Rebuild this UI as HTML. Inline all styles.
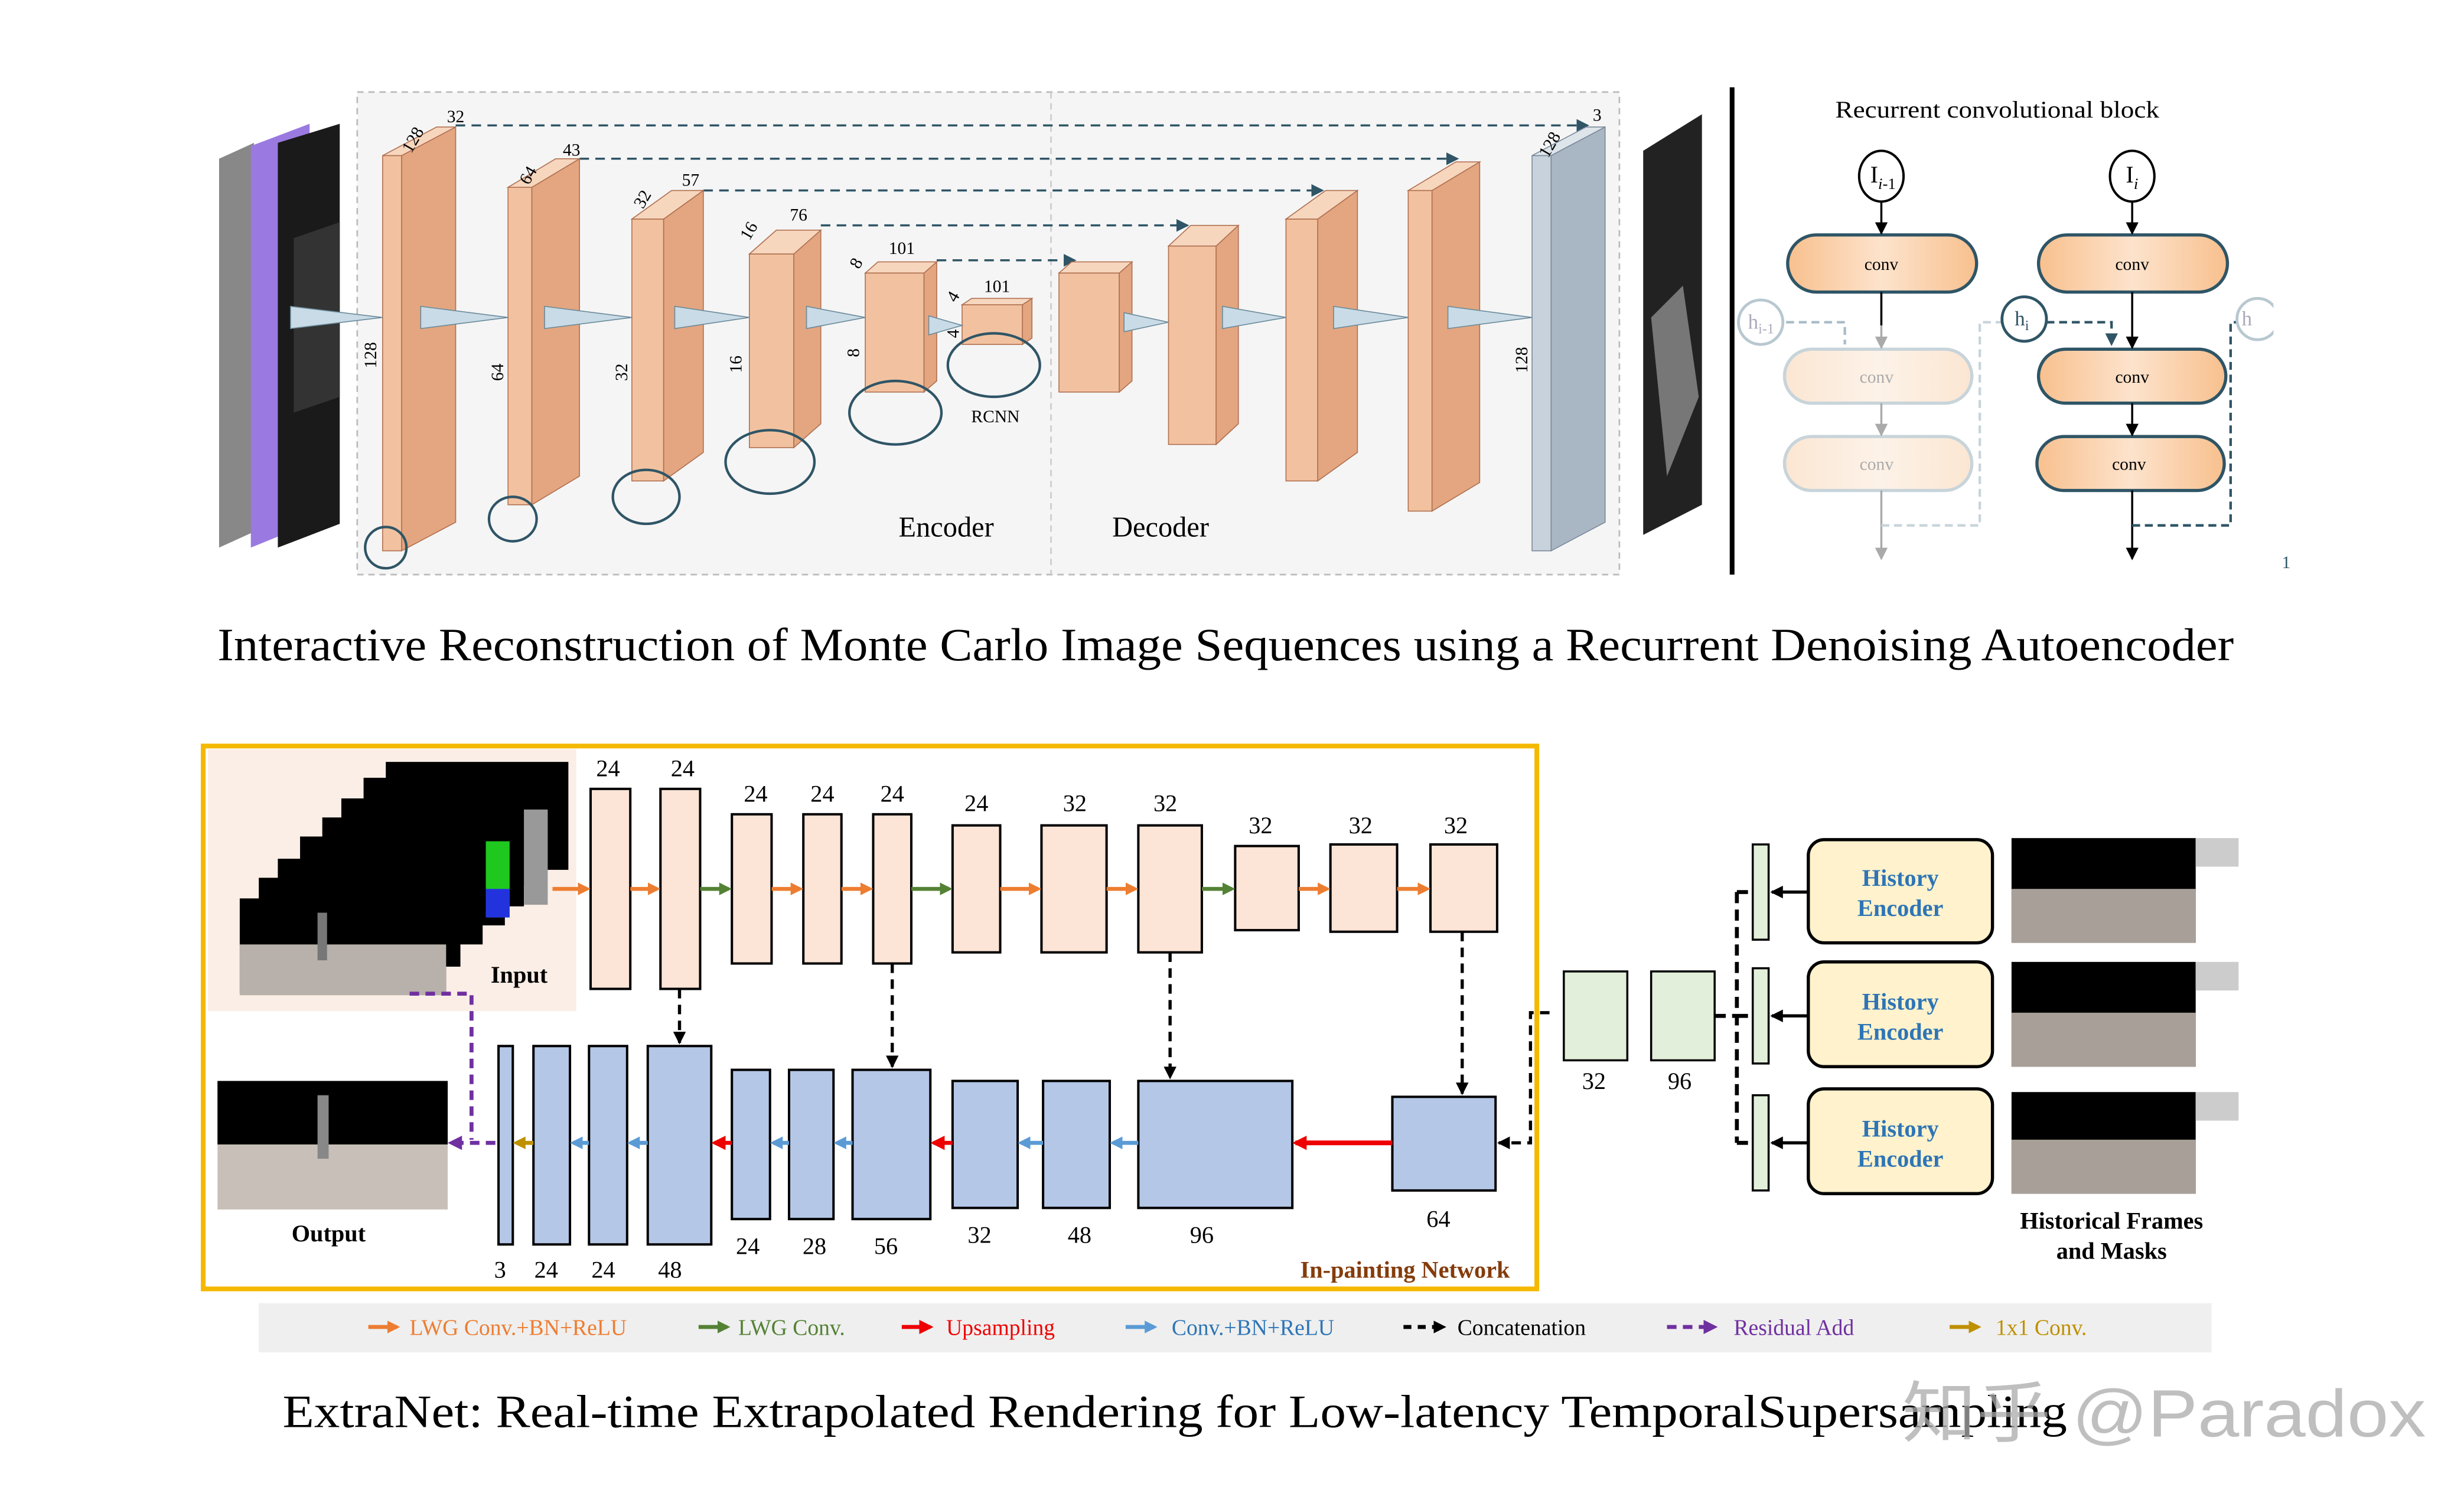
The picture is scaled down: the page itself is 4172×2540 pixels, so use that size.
<!DOCTYPE html>
<html><head><meta charset="utf-8"><style>
html,body{margin:0;padding:0;background:#fff}
svg{display:block}
text{font-family:"Liberation Serif","Noto Serif CJK SC",serif}
text.wm{font-family:"Liberation Sans","Noto Sans CJK SC",sans-serif}
</style></head><body>
<svg width="4172" height="2540" viewBox="0 0 1552 945" preserveAspectRatio="none" xmlns="http://www.w3.org/2000/svg">
<defs>
<marker id="ab" markerWidth="8" markerHeight="8" refX="7" refY="4" orient="auto" markerUnits="userSpaceOnUse"><path d="M0,0 L8,4 L0,8 z" fill="#000"/></marker>
<marker id="ad" markerWidth="8" markerHeight="8" refX="7" refY="4" orient="auto" markerUnits="userSpaceOnUse"><path d="M0,0 L8,4 L0,8 z" fill="#2f5566"/></marker>
<marker id="ag" markerWidth="8" markerHeight="8" refX="7" refY="4" orient="auto" markerUnits="userSpaceOnUse"><path d="M0,0 L8,4 L0,8 z" fill="#aaa"/></marker>
<marker id="ao" markerWidth="8" markerHeight="8" refX="6" refY="4" orient="auto" markerUnits="userSpaceOnUse"><path d="M0,0 L8,4 L0,8 z" fill="#ed7d31"/></marker>
<marker id="agr" markerWidth="8" markerHeight="8" refX="6" refY="4" orient="auto" markerUnits="userSpaceOnUse"><path d="M0,0 L8,4 L0,8 z" fill="#548235"/></marker>
<marker id="ar" markerWidth="9" markerHeight="9" refX="7" refY="4.5" orient="auto" markerUnits="userSpaceOnUse"><path d="M0,0 L9,4.5 L0,9 z" fill="#e00"/></marker>
<marker id="abl" markerWidth="8" markerHeight="8" refX="6" refY="4" orient="auto" markerUnits="userSpaceOnUse"><path d="M0,0 L8,4 L0,8 z" fill="#5b9bd5"/></marker>
<marker id="ap" markerWidth="9" markerHeight="9" refX="7" refY="4.5" orient="auto" markerUnits="userSpaceOnUse"><path d="M0,0 L9,4.5 L0,9 z" fill="#7030a0"/></marker>
<marker id="ay" markerWidth="8" markerHeight="8" refX="6" refY="4" orient="auto" markerUnits="userSpaceOnUse"><path d="M0,0 L8,4 L0,8 z" fill="#bf9000"/></marker>
<linearGradient id="cg" x1="0" x2="1"><stop offset="0" stop-color="#f8c08e"/><stop offset="0.5" stop-color="#fde3cc"/><stop offset="1" stop-color="#f8c08e"/></linearGradient>
<linearGradient id="cf" x1="0" x2="1"><stop offset="0" stop-color="#fbe6d2"/><stop offset="0.5" stop-color="#fdf2e8"/><stop offset="1" stop-color="#fbe6d2"/></linearGradient>
</defs>

<rect x="225" y="58" width="795" height="304" fill="#f5f5f5" stroke="#bbb" stroke-dasharray="4,3"/>
<line x1="662" y1="58" x2="662" y2="362" stroke="#ccc" stroke-dasharray="4,3"/>
<polygon points="138,100 160,90 160,335 138,345" fill="#888"/>
<polygon points="158,92 195,78 195,330 158,345" fill="#9a7ae0"/>
<polygon points="175,90 214,78 214,330 175,345" fill="#1a1a1a"/>
<polygon points="185,150 214,140 214,250 185,260" fill="#333"/>
<polygon points="1035,95 1072,72 1072,318 1035,337" fill="#222"/>
<polygon points="1040,200 1060,180 1070,250 1050,300" fill="#777"/>

<g stroke="#2f5566" stroke-width="1.3" stroke-dasharray="6,4" fill="none" marker-end="url(#ad)">
<line x1="287" y1="79" x2="1000" y2="79"/>
<line x1="365" y1="100" x2="918" y2="100"/>
<line x1="443" y1="120" x2="833" y2="120"/>
<line x1="517" y1="142" x2="748" y2="142"/>
<line x1="590" y1="164" x2="677" y2="164"/>
</g>
<g stroke="#b07050" stroke-width="0.6">
<rect x="241" y="98" width="12" height="249" fill="#f2c2a0"/><polygon points="253,98 287,80 287,329 253,347" fill="#e3a680"/><polygon points="241,98 275,80 287,80 253,98" fill="#f7d6be"/>
<rect x="320" y="118" width="15" height="200" fill="#f2c2a0"/><polygon points="335,118 365,100 365,300 335,318" fill="#e3a680"/><polygon points="320,118 350,100 365,100 335,118" fill="#f7d6be"/>
<rect x="398" y="138" width="20" height="165" fill="#f2c2a0"/><polygon points="418,138 443,120 443,285 418,303" fill="#e3a680"/><polygon points="398,138 423,120 443,120 418,138" fill="#f7d6be"/>
<rect x="472" y="160" width="28" height="122" fill="#f2c2a0"/><polygon points="500,160 517,145 517,267 500,282" fill="#e3a680"/><polygon points="472,160 489,145 517,145 500,160" fill="#f7d6be"/>
<rect x="545" y="172" width="37" height="75" fill="#f2c2a0"/><polygon points="582,172 590,165 590,240 582,247" fill="#e3a680"/><polygon points="545,172 553,165 590,165 582,172" fill="#f7d6be"/>
<rect x="606" y="192" width="38" height="25" fill="#f2c2a0"/><polygon points="644,192 650,188 650,213 644,217" fill="#e3a680"/><polygon points="606,192 612,188 650,188 644,192" fill="#f7d6be"/>
<rect x="667" y="172" width="38" height="75" fill="#f2c2a0"/><polygon points="705,172 713,165 713,240 705,247" fill="#e3a680"/><polygon points="667,172 675,165 713,165 705,172" fill="#f7d6be"/>
<rect x="736" y="155" width="30" height="125" fill="#f2c2a0"/><polygon points="766,155 780,142 780,267 766,280" fill="#e3a680"/><polygon points="736,155 750,142 780,142 766,155" fill="#f7d6be"/>
<rect x="810" y="138" width="20" height="165" fill="#f2c2a0"/><polygon points="830,138 855,120 855,285 830,303" fill="#e3a680"/><polygon points="810,138 835,120 855,120 830,138" fill="#f7d6be"/>
<rect x="887" y="120" width="15" height="202" fill="#f2c2a0"/><polygon points="902,120 932,102 932,304 902,322" fill="#e3a680"/><polygon points="887,120 917,102 932,102 902,120" fill="#f7d6be"/>
</g>
<g stroke="#7a8899" stroke-width="0.6">
<rect x="965" y="98" width="12" height="249" fill="#c8d2dc"/><polygon points="977,98 1011,80 1011,329 977,347" fill="#a9b6c4"/><polygon points="965,98 999,80 1011,80 977,98" fill="#dde4ea"/>
</g>
<g fill="#c9dbe6" stroke="#6a8a9a" stroke-width="0.6">
<polygon points="183,193 183,207 241,200"/>
<polygon points="265,193 265,207 320,200"/>
<polygon points="343,193 343,207 398,200"/>
<polygon points="425,193 425,207 472,200"/>
<polygon points="508,193 508,207 545,200"/>
<polygon points="585,199 585,211 606,205"/>
<polygon points="708,197 708,209 736,203"/>
<polygon points="770,193 770,207 810,200"/>
<polygon points="840,193 840,207 887,200"/>
<polygon points="912,193 912,207 965,200"/>
</g>
<g fill="none" stroke="#2f5566" stroke-width="1.6">
<ellipse cx="243" cy="345" rx="13" ry="13"/>
<ellipse cx="323" cy="327" rx="15" ry="14"/>
<ellipse cx="407" cy="313" rx="21" ry="17"/>
<ellipse cx="485" cy="291" rx="28" ry="20"/>
<ellipse cx="564" cy="260" rx="29" ry="20"/>
<ellipse cx="626" cy="230" rx="29" ry="20"/>
</g>
<g font-size="11" fill="#000">
<text x="287" y="77" text-anchor="middle">32</text>
<text x="360" y="98" text-anchor="middle">43</text>
<text x="435" y="117" text-anchor="middle">57</text>
<text x="503" y="139" text-anchor="middle">76</text>
<text x="568" y="160" text-anchor="middle">101</text>
<text x="628" y="184" text-anchor="middle">101</text>
<text x="1006" y="76" text-anchor="middle">3</text>
<text transform="translate(259,97) rotate(-60)">128</text>
<text transform="translate(333,117) rotate(-60)">64</text>
<text transform="translate(405,132) rotate(-60)">32</text>
<text transform="translate(472,152) rotate(-60)">16</text>
<text transform="translate(541,170) rotate(-60)">8</text>
<text transform="translate(602,191) rotate(-60)">4</text>
<text transform="translate(975,100) rotate(-60)">128</text>
<text transform="translate(237,232) rotate(-90)">128</text>
<text transform="translate(317,240) rotate(-90)">64</text>
<text transform="translate(395,240) rotate(-90)">32</text>
<text transform="translate(467,235) rotate(-90)">16</text>
<text transform="translate(541,225) rotate(-90)">8</text>
<text transform="translate(604,213) rotate(-90)">4</text>
<text transform="translate(962,235) rotate(-90)">128</text>
<text x="627" y="266" text-anchor="middle">RCNN</text>
</g>
<text x="596" y="338" font-size="18" text-anchor="middle">Encoder</text>
<text x="731" y="338" font-size="18" text-anchor="middle">Decoder</text>
<rect x="1089.5" y="55" width="3" height="307" fill="#000"/>

<text x="1156" y="74" font-size="15" textLength="204" lengthAdjust="spacingAndGlyphs">Recurrent convolutional block</text>
<g stroke="#2f5566" stroke-width="2">
<rect x="1126" y="148" width="119" height="36" rx="18" fill="url(#cg)"/>
<rect x="1284" y="148" width="119" height="36" rx="18" fill="url(#cg)"/>
<rect x="1284" y="220" width="118" height="34" rx="17" fill="url(#cg)"/>
<rect x="1283" y="275" width="118" height="34" rx="17" fill="url(#cg)"/>
</g>
<g stroke="#c8d4da" stroke-width="2">
<rect x="1124" y="220" width="118" height="34" rx="17" fill="url(#cf)"/>
<rect x="1124" y="275" width="118" height="34" rx="17" fill="url(#cf)"/>
</g>
<g font-size="11" text-anchor="middle"><text x="1185" y="170">conv</text><text x="1343" y="170">conv</text><text x="1343" y="241">conv</text><text x="1341" y="296">conv</text>
<text x="1182" y="241" fill="#aaa">conv</text><text x="1182" y="296" fill="#aaa">conv</text></g>
<g fill="#fff" stroke="#000" stroke-width="1.5"><ellipse cx="1185" cy="111" rx="14" ry="16"/><ellipse cx="1343" cy="111" rx="14" ry="16"/></g>
<text x="1178" y="115" font-size="15">I<tspan font-size="10" dy="4" font-style="italic">i</tspan><tspan font-size="10">-1</tspan></text>
<text x="1339" y="115" font-size="15">I<tspan font-size="10" dy="4" font-style="italic">i</tspan></text>
<g stroke="#000" stroke-width="1.3" marker-end="url(#ab)"><line x1="1185" y1="127" x2="1185" y2="147"/><line x1="1343" y1="127" x2="1343" y2="147"/>
<line x1="1343" y1="184" x2="1343" y2="219"/><line x1="1343" y1="254" x2="1343" y2="274"/><line x1="1343" y1="309" x2="1343" y2="352"/></g>
<g stroke="#aaa" stroke-width="1.3" marker-end="url(#ag)"><line x1="1185" y1="184" x2="1185" y2="219"/><line x1="1185" y1="254" x2="1185" y2="274"/><line x1="1185" y1="309" x2="1185" y2="352"/></g>
<line x1="1185" y1="184" x2="1185" y2="205" stroke="#000" stroke-width="1.3"/>
<g fill="none" stroke-width="1.6" stroke-dasharray="5,3">
<polyline points="1125,203 1162,203 1162,217" stroke="#a8bcc6"/>
<polyline points="1185,331 1247,331 1247,203 1262,203" stroke="#c8d4da"/>
<polyline points="1289,203 1330,203 1330,217" stroke="#2f5566" marker-end="url(#ad)"/>
<polyline points="1343,331 1405,331 1405,203 1410,203" stroke="#2f5566"/>
</g>
<g fill="#fff" stroke-width="1.8"><circle cx="1109" cy="203" r="14" stroke="#b8c8d0"/><circle cx="1275" cy="201" r="14" stroke="#2f5566"/><circle cx="1422" cy="201" r="13" stroke="#b8c8d0"/></g>
<rect x="1432" y="180" width="30" height="45" fill="#fff"/>
<text x="1101" y="207" font-size="13" fill="#aab">h<tspan font-size="9" dy="3">i-1</tspan></text>
<text x="1269" y="205" font-size="13" fill="#2f5566">h<tspan font-size="9" dy="3">i</tspan></text>
<text x="1412" y="205" font-size="13" fill="#aab">h</text>
<text x="1440" y="358" font-size="11" fill="#2f5566" text-anchor="middle">1</text>

<text x="137" y="416" font-size="29" textLength="1270" lengthAdjust="spacingAndGlyphs">Interactive Reconstruction of Monte Carlo Image Sequences using a Recurrent Denoising Autoencoder</text>

<rect x="128" y="470" width="840" height="342" fill="#fff" stroke="#f5b800" stroke-width="3"/>
<rect x="131" y="472" width="232" height="165" fill="#fbeee6"/>
<g fill="#000">
<rect x="243" y="480" width="115" height="68"/><rect x="229" y="490" width="115" height="68"/><rect x="215" y="503" width="115" height="68"/><rect x="203" y="515" width="115" height="68"/><rect x="189" y="527" width="115" height="68"/><rect x="175" y="541" width="115" height="68"/><rect x="163" y="553" width="115" height="68"/><rect x="151" y="566" width="130" height="60"/>
</g>
<rect x="306" y="530" width="15" height="48" fill="#1ec81e"/><rect x="306" y="560" width="15" height="18" fill="#2233dd"/>
<rect x="330" y="510" width="15" height="60" fill="#999"/>
<rect x="151" y="595" width="130" height="32" fill="#b8b0aa"/><rect x="200" y="575" width="6" height="30" fill="#777"/>
<text x="327" y="619" font-size="15" font-weight="bold" text-anchor="middle">Input</text>
<rect x="137" y="681" width="145" height="81" fill="#c8c0b8"/><rect x="137" y="681" width="145" height="40" fill="#000"/><rect x="200" y="690" width="7" height="40" fill="#888"/>
<text x="207" y="782" font-size="15" font-weight="bold" text-anchor="middle">Output</text>

<g fill="#fce4d6" stroke="#000" stroke-width="1.5">
<rect x="372" y="497" width="25" height="126"/><rect x="416" y="497" width="25" height="126"/>
<rect x="461" y="513" width="25" height="94"/><rect x="506" y="513" width="24" height="94"/><rect x="550" y="513" width="24" height="94"/>
<rect x="600" y="520" width="30" height="80"/><rect x="656" y="520" width="41" height="80"/><rect x="717" y="520" width="40" height="80"/>
<rect x="778" y="533" width="40" height="53"/><rect x="838" y="532" width="42" height="55"/><rect x="901" y="532" width="42" height="55"/>
</g>
<g font-size="15" text-anchor="middle">
<text x="383" y="489">24</text><text x="430" y="489">24</text><text x="476" y="505">24</text><text x="518" y="505">24</text><text x="562" y="505">24</text>
<text x="615" y="511">24</text><text x="677" y="511">32</text><text x="734" y="511">32</text><text x="794" y="525">32</text><text x="857" y="525">32</text><text x="917" y="525">32</text>
</g>
<g stroke-width="2.5">
<line x1="348" y1="560" x2="370" y2="560" stroke="#ed7d31" marker-end="url(#ao)"/>
<line x1="397" y1="560" x2="414" y2="560" stroke="#ed7d31" marker-end="url(#ao)"/>
<line x1="441" y1="560" x2="459" y2="560" stroke="#548235" marker-end="url(#agr)"/>
<line x1="486" y1="560" x2="504" y2="560" stroke="#ed7d31" marker-end="url(#ao)"/>
<line x1="530" y1="560" x2="548" y2="560" stroke="#ed7d31" marker-end="url(#ao)"/>
<line x1="574" y1="560" x2="598" y2="560" stroke="#548235" marker-end="url(#agr)"/>
<line x1="630" y1="560" x2="654" y2="560" stroke="#ed7d31" marker-end="url(#ao)"/>
<line x1="697" y1="560" x2="715" y2="560" stroke="#ed7d31" marker-end="url(#ao)"/>
<line x1="757" y1="560" x2="776" y2="560" stroke="#548235" marker-end="url(#agr)"/>
<line x1="818" y1="560" x2="836" y2="560" stroke="#ed7d31" marker-end="url(#ao)"/>
<line x1="880" y1="560" x2="899" y2="560" stroke="#ed7d31" marker-end="url(#ao)"/>
</g>
<g fill="#b4c7e7" stroke="#000" stroke-width="1.5">
<rect x="314" y="659" width="9" height="125"/><rect x="336" y="659" width="23" height="125"/><rect x="371" y="659" width="24" height="125"/><rect x="408" y="659" width="40" height="125"/>
<rect x="461" y="674" width="24" height="94"/><rect x="497" y="674" width="28" height="94"/><rect x="537" y="674" width="49" height="94"/>
<rect x="600" y="681" width="41" height="80"/><rect x="657" y="681" width="42" height="80"/><rect x="717" y="681" width="97" height="80"/>
<rect x="877" y="691" width="65" height="59"/>
</g>
<g font-size="15" text-anchor="middle">
<text x="315" y="805">3</text><text x="344" y="805">24</text><text x="380" y="805">24</text><text x="422" y="805">48</text>
<text x="471" y="790">24</text><text x="513" y="790">28</text><text x="558" y="790">56</text>
<text x="617" y="783">32</text><text x="680" y="783">48</text><text x="757" y="783">96</text><text x="906" y="773">64</text>
</g>
<g stroke-width="2.5">
<line x1="336" y1="720" x2="325" y2="720" stroke="#bf9000" marker-end="url(#ay)"/>
<line x1="371" y1="720" x2="361" y2="720" stroke="#5b9bd5" marker-end="url(#abl)"/>
<line x1="408" y1="720" x2="397" y2="720" stroke="#5b9bd5" marker-end="url(#abl)"/>
<line x1="461" y1="720" x2="450" y2="720" stroke="#e00" marker-end="url(#ar)"/>
<line x1="497" y1="720" x2="487" y2="720" stroke="#5b9bd5" marker-end="url(#abl)"/>
<line x1="537" y1="720" x2="527" y2="720" stroke="#5b9bd5" marker-end="url(#abl)"/>
<line x1="600" y1="720" x2="588" y2="720" stroke="#e00" marker-end="url(#ar)"/>
<line x1="657" y1="720" x2="643" y2="720" stroke="#5b9bd5" marker-end="url(#abl)"/>
<line x1="717" y1="720" x2="701" y2="720" stroke="#5b9bd5" marker-end="url(#abl)"/>
<line x1="877" y1="720" x2="816" y2="720" stroke="#e00" stroke-width="3" marker-end="url(#ar)"/>
<line x1="312" y1="720" x2="284" y2="720" stroke="#7030a0" stroke-dasharray="6,4" marker-end="url(#ap)"/>
</g>
<polyline points="258,626 297,626 297,718" fill="none" stroke="#7030a0" stroke-width="2.5" stroke-dasharray="6,4"/>
<g stroke="#000" stroke-width="2" stroke-dasharray="6,4" marker-end="url(#ab)" fill="none">
<line x1="428" y1="623" x2="428" y2="657"/>
<line x1="562" y1="607" x2="562" y2="672"/>
<line x1="737" y1="600" x2="737" y2="679"/>
<line x1="921" y1="587" x2="921" y2="689"/>
<polyline points="976,638 964,638 964,720 944,720"/>
</g>
<text x="885" y="805" font-size="15" font-weight="bold" fill="#843c0c" text-anchor="middle">In-painting Network</text>

<g fill="#e2efda" stroke="#000" stroke-width="1.3">
<rect x="985" y="612" width="40" height="56"/><rect x="1040" y="612" width="40" height="56"/>
<rect x="1104" y="532" width="10" height="60"/><rect x="1104" y="610" width="10" height="60"/><rect x="1104" y="690" width="10" height="60"/>
</g>
<text x="1004" y="686" font-size="15" text-anchor="middle">32</text><text x="1058" y="686" font-size="15" text-anchor="middle">96</text>
<g stroke="#000" stroke-width="2.5" stroke-dasharray="7,4" fill="none">
<line x1="1094" y1="562" x2="1094" y2="720"/>
<line x1="1094" y1="562" x2="1104" y2="562"/><line x1="1094" y1="640" x2="1104" y2="640"/><line x1="1094" y1="720" x2="1104" y2="720"/>
<line x1="1080" y1="640" x2="1094" y2="640"/>
</g>
<g stroke="#000" stroke-width="2" marker-end="url(#ab)">
<line x1="1139" y1="562" x2="1116" y2="562"/><line x1="1139" y1="640" x2="1116" y2="640"/><line x1="1139" y1="720" x2="1116" y2="720"/>
</g>
<g fill="#fff2cc" stroke="#000" stroke-width="2">
<rect x="1139" y="529" width="116" height="65" rx="10"/><rect x="1139" y="606" width="116" height="66" rx="10"/><rect x="1139" y="686" width="116" height="66" rx="10"/>
</g>
<g font-size="15" font-weight="bold" fill="#2e75b6" text-anchor="middle">
<text x="1197" y="558">History</text><text x="1197" y="577">Encoder</text>
<text x="1197" y="636">History</text><text x="1197" y="655">Encoder</text>
<text x="1197" y="716">History</text><text x="1197" y="735">Encoder</text>
</g>
<g>
<rect x="1267" y="528" width="116" height="66" fill="#000"/><rect x="1267" y="560" width="116" height="34" fill="#a8a098"/>
<rect x="1267" y="606" width="116" height="66" fill="#000"/><rect x="1267" y="638" width="116" height="34" fill="#a8a098"/>
<rect x="1267" y="688" width="116" height="64" fill="#000"/><rect x="1267" y="718" width="116" height="34" fill="#a8a098"/>
<rect x="1383" y="528" width="27" height="18" fill="#ccc"/><rect x="1383" y="606" width="27" height="18" fill="#ccc"/><rect x="1383" y="688" width="27" height="18" fill="#ccc"/>
</g>
<text x="1330" y="774" font-size="15" font-weight="bold" text-anchor="middle">Historical Frames</text>
<text x="1330" y="793" font-size="15" font-weight="bold" text-anchor="middle">and Masks</text>

<rect x="163" y="821" width="1230" height="31" fill="#efefef"/>
<g stroke-width="2.5">
<line x1="232" y1="836" x2="250" y2="836" stroke="#ed7d31" marker-end="url(#ao)"/>
<line x1="440" y1="836" x2="458" y2="836" stroke="#548235" marker-end="url(#agr)"/>
<line x1="568" y1="836" x2="586" y2="836" stroke="#e00" marker-end="url(#ar)"/>
<line x1="709" y1="836" x2="727" y2="836" stroke="#5b9bd5" marker-end="url(#abl)"/>
<line x1="884" y1="836" x2="910" y2="836" stroke="#000" stroke-dasharray="5,4" marker-end="url(#ab)"/>
<line x1="1050" y1="836" x2="1080" y2="836" stroke="#7030a0" stroke-dasharray="6,4" marker-end="url(#ap)"/>
<line x1="1228" y1="836" x2="1246" y2="836" stroke="#bf9000" marker-end="url(#ay)"/>
</g>
<g font-size="14">
<text x="258" y="841" fill="#ed7d31">LWG Conv.+BN+ReLU</text>
<text x="465" y="841" fill="#548235">LWG Conv.</text>
<text x="596" y="841" fill="#e00">Upsampling</text>
<text x="738" y="841" fill="#2e75b6">Conv.+BN+ReLU</text>
<text x="918" y="841" fill="#000">Concatenation</text>
<text x="1092" y="841" fill="#7030a0">Residual Add</text>
<text x="1257" y="841" fill="#bf9000">1x1 Conv.</text>
</g>

<text x="178" y="899" font-size="29" textLength="1124" lengthAdjust="spacingAndGlyphs">ExtraNet: Real-time Extrapolated Rendering for Low-latency TemporalSupersampling</text>
<text class="wm" x="1198" y="905" font-size="42" fill="#aaa" fill-opacity="0.75" textLength="330" lengthAdjust="spacingAndGlyphs">知乎 @Paradox</text>
</svg>
</body></html>
